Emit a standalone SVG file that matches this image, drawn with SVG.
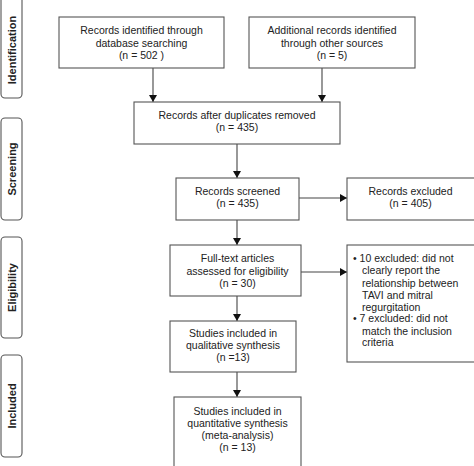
<svg xmlns="http://www.w3.org/2000/svg" width="474" height="466" viewBox="0 0 474 466">
<defs>
<style>
.box{fill:#fff;stroke:#555;stroke-width:1.1}
.phase{fill:#fff;stroke:#555;stroke-width:1.1}
.t{font-family:"Liberation Sans",Arial,sans-serif;font-size:10.5px;fill:#222;text-anchor:middle}
.tl{font-family:"Liberation Sans",Arial,sans-serif;font-size:10.5px;fill:#222}
.ph{font-family:"Liberation Sans",Arial,sans-serif;font-size:11px;font-weight:bold;fill:#222;text-anchor:middle}
.c{stroke:#444;stroke-width:1.1;fill:none;marker-end:url(#ah)}
</style>
<marker id="ah" markerWidth="8" markerHeight="8" refX="7" refY="4" orient="auto" markerUnits="userSpaceOnUse">
<path d="M0,0 L7,4 L0,8 Z" fill="#111"/>
</marker>
</defs>
<rect width="474" height="466" fill="#fff"/>

<g id="phase-identification">
<rect class="phase" x="1" y="-6" width="21" height="104" rx="4"/>
<text class="ph" transform="translate(15.5,50) rotate(-90)">Identification</text>
</g>
<g id="phase-screening">
<rect class="phase" x="1" y="118" width="21" height="102" rx="4"/>
<text class="ph" transform="translate(15.5,169) rotate(-90)">Screening</text>
</g>
<g id="phase-eligibility">
<rect class="phase" x="1" y="237" width="21" height="101" rx="4"/>
<text class="ph" transform="translate(15.5,287.5) rotate(-90)">Eligibility</text>
</g>
<g id="phase-included">
<rect class="phase" x="1" y="355" width="21" height="102" rx="4"/>
<text class="ph" transform="translate(15.5,406) rotate(-90)">Included</text>
</g>

<g id="connectors">
<line class="c" x1="153" y1="68" x2="153" y2="102"/>
<line class="c" x1="322" y1="68" x2="322" y2="102"/>
<line class="c" x1="237" y1="144" x2="237" y2="178"/>
<line class="c" x1="299" y1="198" x2="347" y2="198"/>
<line class="c" x1="237" y1="220" x2="237" y2="245"/>
<line class="c" x1="301" y1="272" x2="347" y2="272"/>
<line class="c" x1="237" y1="296" x2="237" y2="321"/>
<line class="c" x1="237" y1="372" x2="237" y2="397"/>
</g>

<g id="n1">
<rect class="box" x="59" y="17" width="165" height="51"/>
<text class="t" x="141.5" y="34">Records identified through</text>
<text class="t" x="141.5" y="46.5">database searching</text>
<text class="t" x="141.5" y="59">(n = 502 )</text>
</g>
<g id="n2">
<rect class="box" x="249" y="17" width="166" height="51"/>
<text class="t" x="332" y="34">Additional records identified</text>
<text class="t" x="332" y="46.5">through other sources</text>
<text class="t" x="332" y="59">(n = 5)</text>
</g>
<g id="n3">
<rect class="box" x="134" y="102" width="206" height="42"/>
<text class="t" x="237" y="118.5">Records after duplicates removed</text>
<text class="t" x="237" y="130.5">(n = 435)</text>
</g>
<g id="n4">
<rect class="box" x="176" y="178" width="123" height="42"/>
<text class="t" x="237.5" y="194.5">Records screened</text>
<text class="t" x="237.5" y="206.5">(n = 435)</text>
</g>
<g id="n5">
<rect class="box" x="347" y="178" width="135" height="42"/>
<text class="t" x="410.5" y="194.5">Records excluded</text>
<text class="t" x="410.5" y="206.5">(n = 405)</text>
</g>
<g id="n6">
<rect class="box" x="170" y="245" width="131" height="51"/>
<text class="t" x="237.5" y="262">Full-text articles</text>
<text class="t" x="237.5" y="274.5">assessed for eligibility</text>
<text class="t" x="237.5" y="286.5">(n = 30)</text>
</g>
<g id="n7">
<rect class="box" x="347" y="245" width="135" height="117"/>
<text class="tl" x="353" y="262">• 10 excluded: did not</text>
<text class="tl" x="362" y="274">clearly report the</text>
<text class="tl" x="362" y="286.5">relationship between</text>
<text class="tl" x="362" y="298.5">TAVI and mitral</text>
<text class="tl" x="362" y="311">regurgitation</text>
<text class="tl" x="353" y="322">• 7 excluded: did not</text>
<text class="tl" x="362" y="334.5">match the inclusion</text>
<text class="tl" x="362" y="346">criteria</text>
</g>
<g id="n8">
<rect class="box" x="170" y="321" width="126" height="51"/>
<text class="t" x="233" y="337">Studies included in</text>
<text class="t" x="233" y="349">qualitative synthesis</text>
<text class="t" x="233" y="361">(n =13)</text>
</g>
<g id="n9">
<rect class="box" x="174" y="397" width="127" height="75"/>
<text class="t" x="237.5" y="414.5">Studies included in</text>
<text class="t" x="237.5" y="426.5">quantitative synthesis</text>
<text class="t" x="237.5" y="438.5">(meta-analysis)</text>
<text class="t" x="237.5" y="451">(n = 13)</text>
</g>
</svg>
